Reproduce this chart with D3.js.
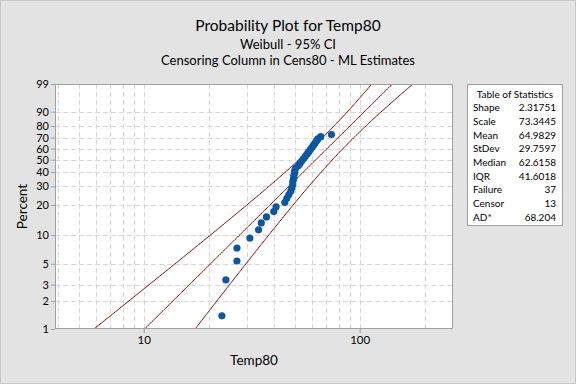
<!DOCTYPE html>
<html><head><meta charset="utf-8">
<script src="https://cdn.jsdelivr.net/npm/d3@7"></script>
<style>
html,body{margin:0;padding:0;background:#e3e3e3;}
svg{display:block;font-family:Lato,"Noto Sans",sans-serif;}
</style></head>
<body>
<script>
// ---- data ----
const failureTimes = [23, 24, 27, 27, 31, 34, 35, 37, 40, 41, 45, 46, 47, 48, 48.5, 49, 49, 49.5, 49.5, 50, 50, 50.5,
  52, 53, 54, 55, 56, 57, 58, 59, 60, 61, 62, 63, 64, 66, 74];
const nTotal = 50;
const shapeEst = 2.31751;
const scaleEst = 73.3445;
// covariance of (mu = ln scale, sigma = 1/shape) estimates
const varMu = 0.0074, varSigma = 0.00298, covMuSigma = -0.00059;
const zCI = 1.96;
const yTickValues = [1, 2, 3, 5, 10, 20, 30, 40, 50, 60, 70, 80, 90, 99];
const xTickValues = [10, 100];
const xGridValues = [4, 5, 6, 7, 8, 9, 10, 20, 30, 40, 50, 60, 70, 80, 90, 100, 200];
const statLabels = ["Shape", "Scale", "Mean", "StDev", "Median", "IQR", "Failure", "Censor", "AD*"];
const statValues = ["2.31751", "73.3445", "64.9829", "29.7597", "62.6158", "41.6018", "37", "13", "68.204"];
const titleLines = ["Probability Plot for Temp80", "Weibull - 95% CI", "Censoring Column in Cens80 - ML Estimates"];

// ---- layout ----
const W = 576, H = 384;
const P = {l: 55, r: 453, t: 84, b: 329};

const svg = d3.select("body").append("svg").attr("width", W).attr("height", H);
svg.append("rect").attr("x", 0.5).attr("y", 0.5).attr("width", W - 1).attr("height", H - 1)
  .attr("fill", "#e3e3e3").attr("stroke", "#c8c8c8");

const x = d3.scaleLog().domain([3.879, 270.5]).range([P.l, P.r]);
const wOf = p => Math.log(-Math.log(1 - p / 100));
const yW = d3.scaleLinear().domain([wOf(1), wOf(99)]).range([P.b, P.t]);
const y = p => yW(wOf(p));
y.range = () => yW.range();
y.domain = () => [1, 99];
y.copy = () => y;

svg.append("rect").attr("x", P.l).attr("y", P.t).attr("width", P.r - P.l).attr("height", P.b - P.t)
  .attr("fill", "#fff");

svg.append("defs").append("clipPath").attr("id", "clip").append("rect")
  .attr("x", P.l).attr("y", P.t).attr("width", P.r - P.l).attr("height", P.b - P.t);

// grid
const grid = svg.append("g").attr("stroke", "#d6d6d6").attr("stroke-dasharray", "5,3").attr("stroke-width", 1);
grid.selectAll("line.gx").data(xGridValues).join("line")
  .attr("x1", d => Math.round(x(d)) + 0.5).attr("x2", d => Math.round(x(d)) + 0.5)
  .attr("y1", P.t).attr("y2", P.b);
grid.selectAll("line.gy").data(yTickValues.filter(d => d > 1 && d < 99)).join("line")
  .attr("y1", d => Math.round(y(d)) + 0.5).attr("y2", d => Math.round(y(d)) + 0.5)
  .attr("x1", P.l).attr("x2", P.r);

// fit line and CI bands
const lnEta = Math.log(scaleEst), sig = 1 / shapeEst;
const wGrid = d3.range(0, 201).map(i => wOf(1) + (wOf(99) - wOf(1)) * i / 200);
const pOfW = w => 100 * (1 - Math.exp(-Math.exp(w)));
const seOf = w => Math.sqrt(varMu + w * w * varSigma + 2 * w * covMuSigma);
const bands = [
  wGrid.map(w => [Math.exp(lnEta + sig * w - zCI * seOf(w)), pOfW(w)]),
  wGrid.map(w => [Math.exp(lnEta + sig * w), pOfW(w)]),
  wGrid.map(w => [Math.exp(lnEta + sig * w + zCI * seOf(w)), pOfW(w)])
];
const line = d3.line().x(d => x(d[0])).y(d => y(d[1]));
svg.append("g").attr("clip-path", "url(#clip)").selectAll("path").data(bands).join("path")
  .attr("d", line).attr("fill", "none").attr("stroke", "#8e0000").attr("stroke-width", 1);

// points (median ranks)
svg.append("g").selectAll("circle").data(failureTimes).join("circle")
  .attr("cx", d => x(d))
  .attr("cy", (d, i) => y(100 * (i + 1 - 0.3) / (nTotal + 0.4)))
  .attr("r", 3.6).attr("fill", "#0a56a5");

// border
svg.append("rect").attr("x", P.l + 0.5).attr("y", P.t + 0.5).attr("width", P.r - P.l - 1).attr("height", P.b - P.t - 1)
  .attr("fill", "none").attr("stroke", "#a0a0a0");

// axes
const yAxis = svg.append("g").attr("transform", `translate(${P.l},0)`)
  .call(d3.axisLeft(y).tickValues(yTickValues).tickSize(4).tickPadding(2).tickFormat(d => d));
const xAxis = svg.append("g").attr("transform", `translate(0,${P.b})`)
  .call(d3.axisBottom(x).tickValues(xTickValues).tickSize(4).tickPadding(3).tickFormat(d => d));
[yAxis, xAxis].forEach(a => {
  a.select(".domain").remove();
  a.selectAll(".tick line").attr("stroke", "#a0a0a0");
  a.selectAll(".tick text").attr("fill", "#000").style("font-family", "Lato, 'Noto Sans', sans-serif");
});
yAxis.selectAll(".tick text").style("font-size", "11px");
xAxis.selectAll(".tick text").style("font-size", "11.5px");

// titles
const tSizes = [15.5, 13, 13];
const tBase = [31, 48.5, 65];
svg.selectAll("text.title").data(titleLines).join("text").attr("class", "title")
  .attr("x", 288).attr("y", (d, i) => tBase[i]).attr("text-anchor", "middle")
  .style("font-size", (d, i) => tSizes[i] + "px").attr("fill", "#000").text(d => d);

svg.append("text").attr("x", (P.l + P.r) / 2).attr("y", 365).attr("text-anchor", "middle")
  .style("font-size", "13.5px").text("Temp80");
svg.append("text").attr("transform", `translate(27,${(P.t + P.b) / 2}) rotate(-90)`).attr("text-anchor", "middle")
  .style("font-size", "13.5px").text("Percent");

// table
const tb = {x: 467, y: 84, w: 95, h: 141};
svg.append("rect").attr("x", tb.x + 0.5).attr("y", tb.y + 0.5).attr("width", tb.w).attr("height", tb.h)
  .attr("fill", "#fff").attr("stroke", "#a0a0a0");
svg.append("text").attr("x", tb.x + tb.w / 2 + 0.5).attr("y", 98).attr("text-anchor", "middle")
  .style("font-size", "10px").text("Table of Statistics");
const rows = svg.append("g").selectAll("g").data(statLabels).join("g")
  .attr("transform", (d, i) => `translate(0,${111.3 + i * 13.65})`);
rows.append("text").attr("x", 473).style("font-size", "10px").text(d => d);
rows.append("text").attr("x", 556).attr("text-anchor", "end").style("font-size", "10px")
  .text((d, i) => statValues[i]);
</script>
</body></html>
